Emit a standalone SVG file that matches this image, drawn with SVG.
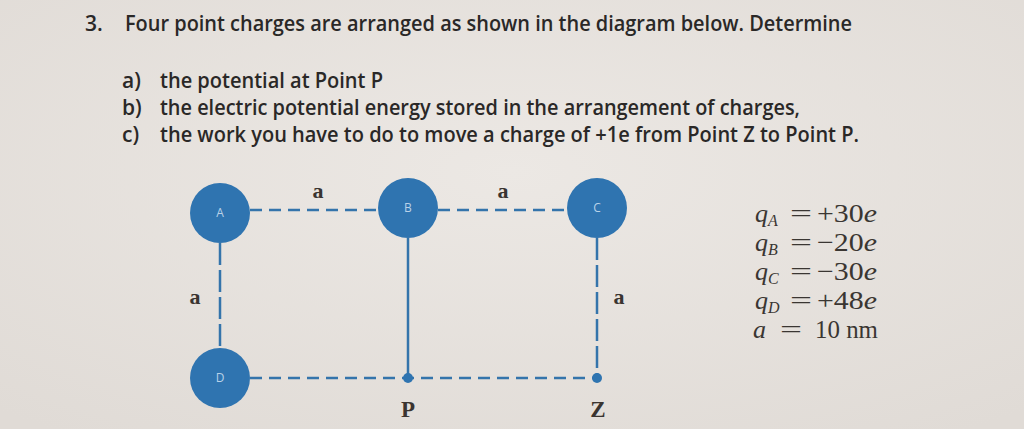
<svg xmlns="http://www.w3.org/2000/svg" width="1024" height="429" viewBox="0 0 1024 429">
<defs>
<radialGradient id="bg" cx="0.5" cy="0.4" r="0.75">
<stop offset="0" stop-color="#ece8e4"/>
<stop offset="1" stop-color="#e0dbd6"/>
</radialGradient>
<style>
.q{font-family:"Open Sans","Liberation Sans",sans-serif;font-size:21px;font-weight:600;fill:#2a2827}
.lab{font-family:"Liberation Serif",serif;font-weight:bold;fill:#3a3430}
.eq{font-family:"Liberation Serif",serif;font-size:26px;fill:#3a3632}
.it{font-style:italic}
.node{fill:#2f74b0}
.nt{font-family:"Open Sans","Liberation Sans",sans-serif;font-size:12px;fill:#b9d2e8;text-anchor:middle}
.dash{stroke:#3474ab;stroke-width:2.5;fill:none;stroke-dasharray:12 7}
.vdash{stroke:#3474ab;stroke-width:2.5;fill:none;stroke-dasharray:22 5}
.solid{stroke:#3474ab;stroke-width:2.5;fill:none}
</style>
</defs>
<rect width="1024" height="429" fill="url(#bg)"/>
<g id="question">
<text class="q" x="85" y="31">3.</text>
<text class="q" x="125" y="31" textLength="727" lengthAdjust="spacingAndGlyphs">Four point charges are arranged as shown in the diagram below.  Determine</text>
<text class="q" x="122" y="88">a)</text>
<text class="q" x="160" y="88" textLength="223" lengthAdjust="spacingAndGlyphs">the potential at Point P</text>
<text class="q" x="122" y="115">b)</text>
<text class="q" x="160" y="115" textLength="640" lengthAdjust="spacingAndGlyphs">the electric potential energy stored in the arrangement of charges,</text>
<text class="q" x="122" y="142">c)</text>
<text class="q" x="160" y="142" textLength="699" lengthAdjust="spacingAndGlyphs">the work you have to do to move a charge of +1e from Point Z to Point P.</text>
</g>
<g id="connectors">
<line class="dash" x1="250" y1="210" x2="378" y2="210"/>
<line class="dash" x1="438" y1="210" x2="567" y2="210"/>
<line class="vdash" x1="220" y1="243" x2="220" y2="350"/>
<line class="solid" x1="408" y1="238" x2="408" y2="378"/>
<line class="vdash" x1="597" y1="238" x2="597" y2="378"/>
<line class="dash" x1="250" y1="378" x2="597" y2="378"/>
</g>
<g id="labels">
<text class="lab" x="318" y="198" font-size="22" text-anchor="middle">a</text>
<text class="lab" x="503" y="198" font-size="22" text-anchor="middle">a</text>
<text class="lab" x="195" y="304" font-size="22" text-anchor="middle">a</text>
<text class="lab" x="619" y="304" font-size="22" text-anchor="middle">a</text>
</g>
<g id="node-A"><circle class="node" cx="220" cy="213" r="30"/><text class="nt" x="220" y="217">A</text></g>
<g id="node-B"><circle class="node" cx="408" cy="208" r="30"/><text class="nt" x="408" y="212">B</text></g>
<g id="node-C"><circle class="node" cx="597" cy="208" r="30"/><text class="nt" x="597" y="212">C</text></g>
<g id="node-D"><circle class="node" cx="220" cy="378" r="30"/><text class="nt" x="220" y="382">D</text></g>
<g id="node-P"><circle class="node" cx="408" cy="378" r="5"/><text class="lab" x="408" y="417" font-size="23" text-anchor="middle">P</text></g>
<g id="node-Z"><circle class="node" cx="597" cy="378" r="5"/><text class="lab" x="598" y="417" font-size="23" text-anchor="middle">Z</text></g>
<g id="values">
<text class="eq" x="755" y="222"><tspan class="it">q</tspan><tspan class="it" font-size="16" dy="4">A</tspan></text>
<text class="eq" x="790" y="222" textLength="22" lengthAdjust="spacingAndGlyphs">=</text>
<text class="eq" x="817" y="222" textLength="60" lengthAdjust="spacingAndGlyphs">+30<tspan class="it">e</tspan></text>
<text class="eq" x="755" y="251"><tspan class="it">q</tspan><tspan class="it" font-size="16" dy="4">B</tspan></text>
<text class="eq" x="790" y="251" textLength="22" lengthAdjust="spacingAndGlyphs">=</text>
<text class="eq" x="817" y="251" textLength="60" lengthAdjust="spacingAndGlyphs">−20<tspan class="it">e</tspan></text>
<text class="eq" x="755" y="280"><tspan class="it">q</tspan><tspan class="it" font-size="16" dy="4">C</tspan></text>
<text class="eq" x="790" y="280" textLength="22" lengthAdjust="spacingAndGlyphs">=</text>
<text class="eq" x="817" y="280" textLength="60" lengthAdjust="spacingAndGlyphs">−30<tspan class="it">e</tspan></text>
<text class="eq" x="755" y="309"><tspan class="it">q</tspan><tspan class="it" font-size="16" dy="4">D</tspan></text>
<text class="eq" x="790" y="309" textLength="22" lengthAdjust="spacingAndGlyphs">=</text>
<text class="eq" x="817" y="309" textLength="60" lengthAdjust="spacingAndGlyphs">+48<tspan class="it">e</tspan></text>
<text class="eq" x="753" y="338"><tspan class="it">a</tspan></text>
<text class="eq" x="780" y="338" textLength="22" lengthAdjust="spacingAndGlyphs">=</text>
<text class="eq" x="815" y="338" textLength="63" lengthAdjust="spacingAndGlyphs">10 nm</text>
</g>
</svg>
